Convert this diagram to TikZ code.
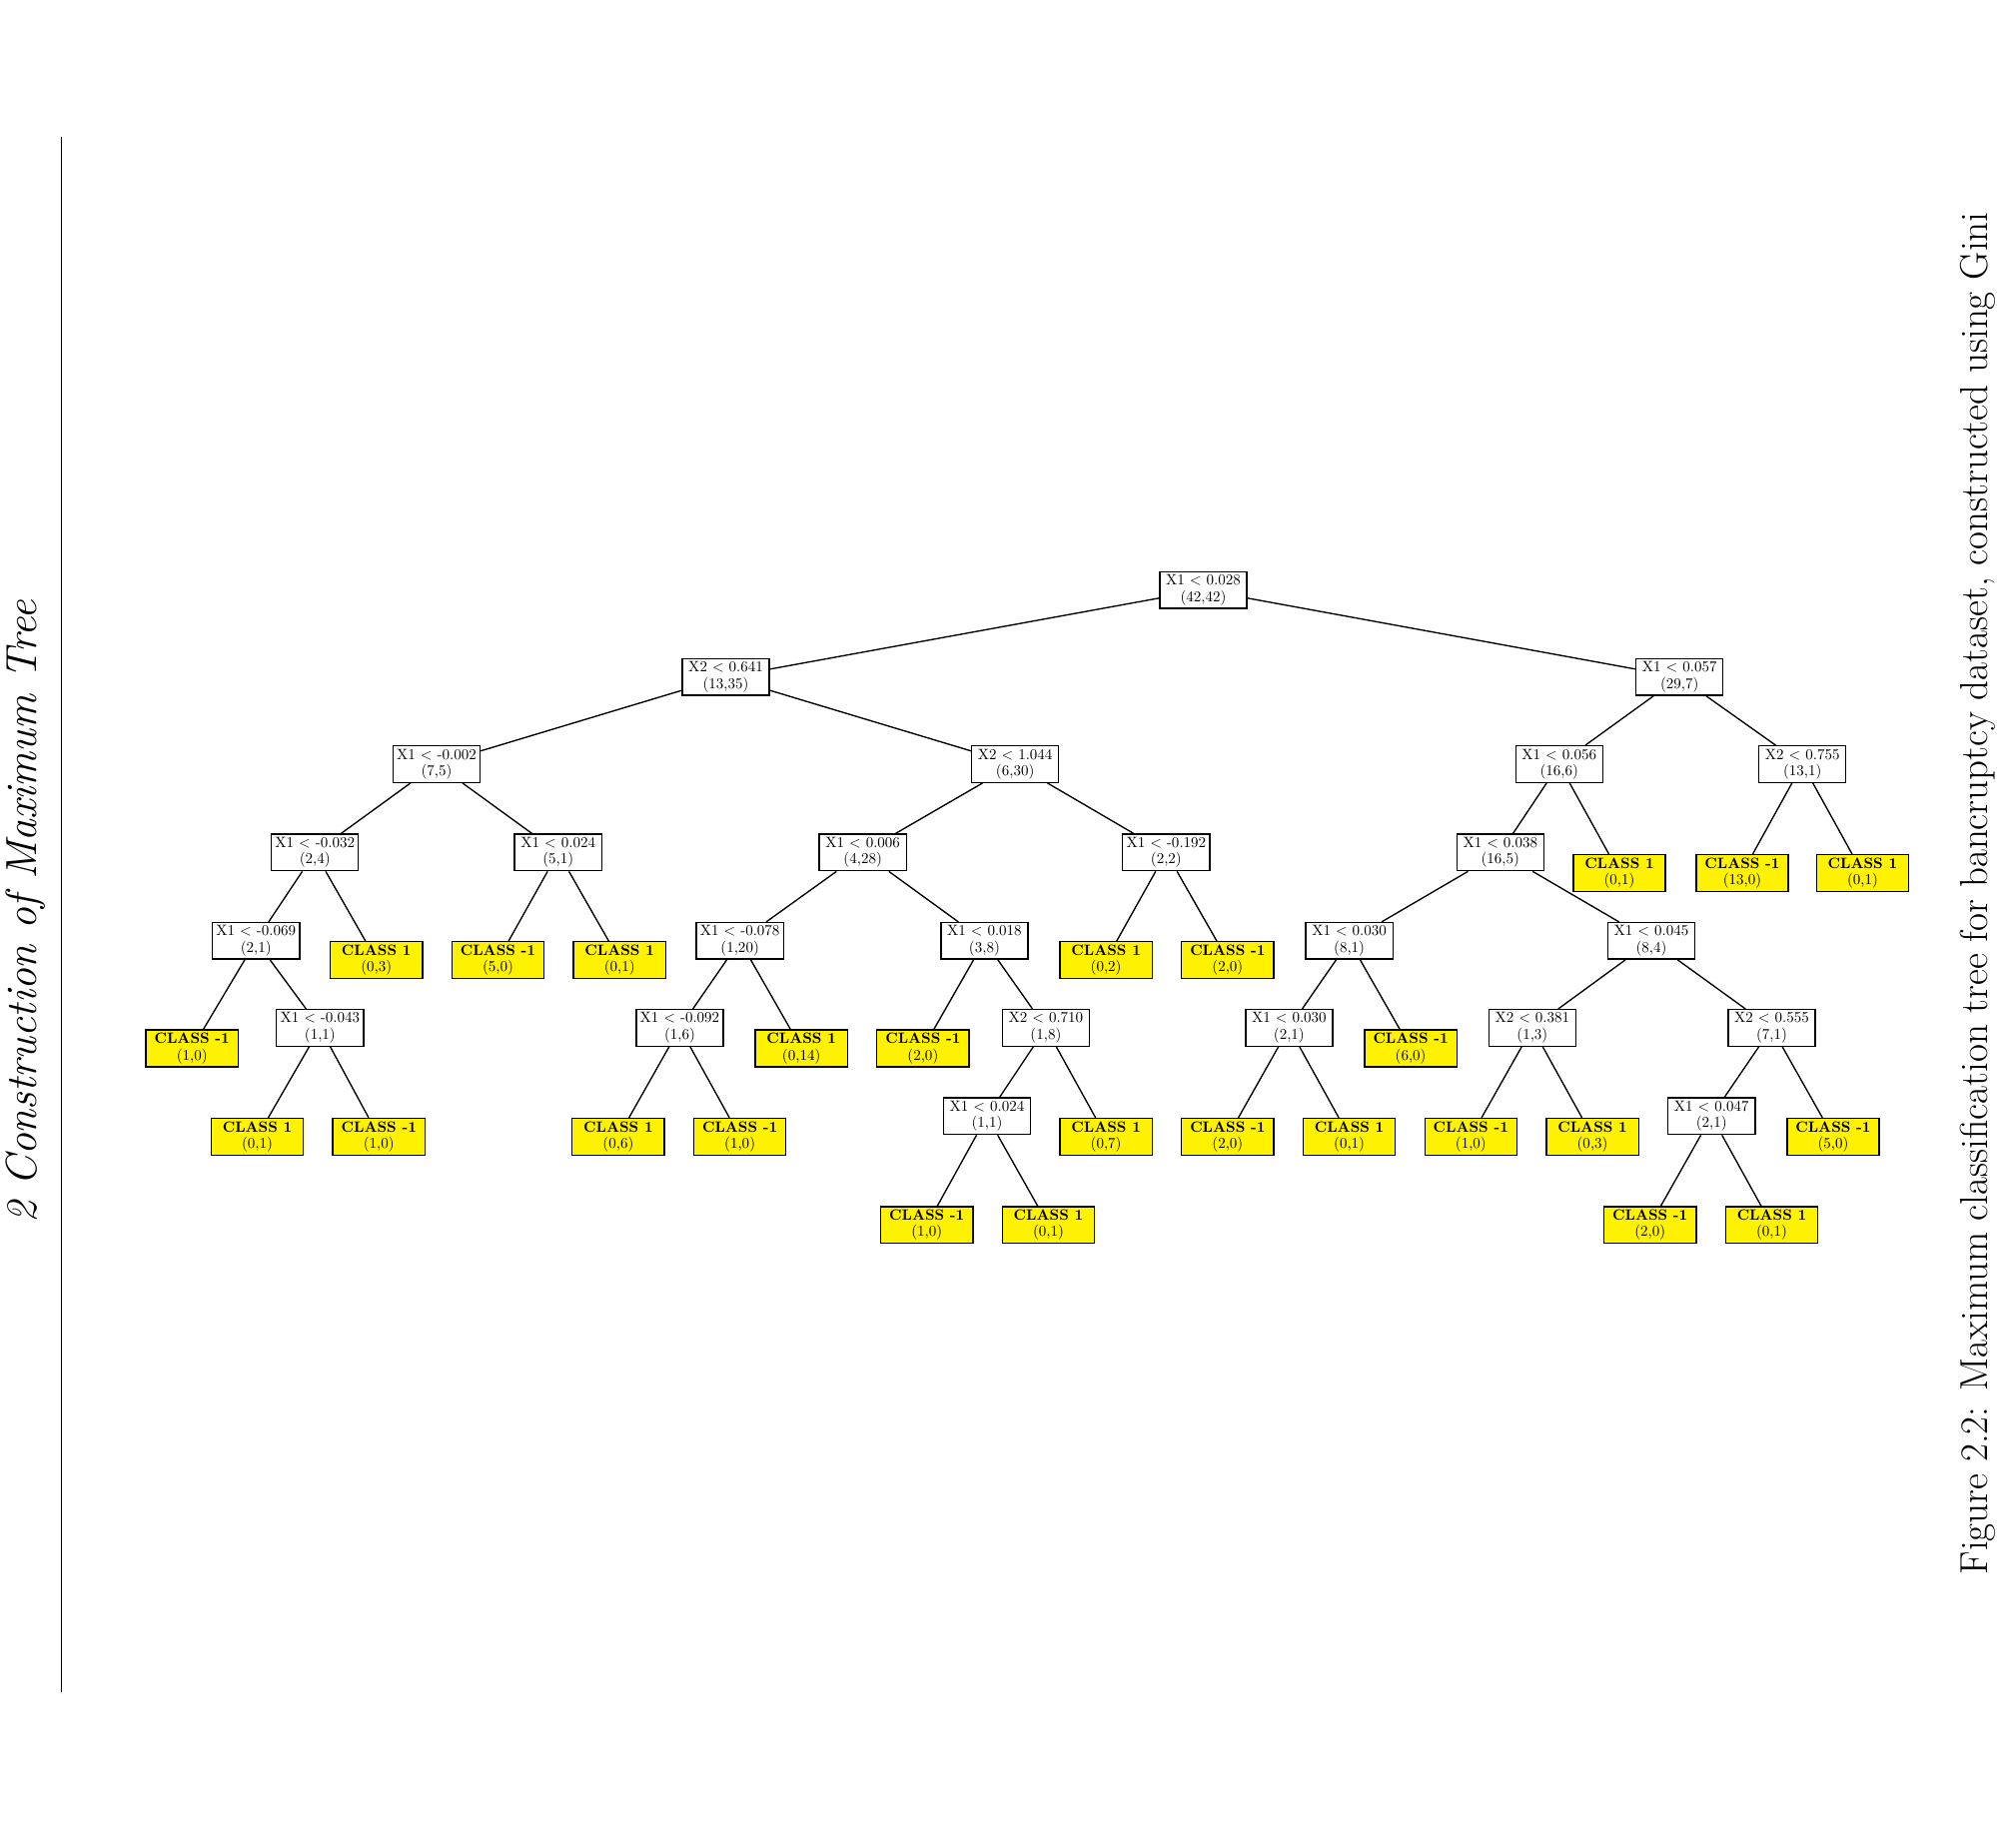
\documentclass[tikz,border=0pt]{standalone}
\begin{document}
\begin{tikzpicture}[x=0.03cm,y=-0.03cm,
  inner/.style={draw,line width=0.9pt,fill=white,align=center,font=\fontsize{10}{11}\selectfont,inner sep=2pt,minimum width=68*0.03cm},
  leaf/.style={draw,line width=0.9pt,fill=yellow,align=center,font=\fontsize{10}{11}\selectfont,inner sep=2pt,minimum width=72*0.03cm},
  edge/.style={line width=0.9pt}]
\useasboundingbox (0,0) rectangle (1560,1443);
\draw[line width=1.3pt] (48,107) -- (48,1322);
\node[rotate=90,font=\fontsize{29}{32}\selectfont\itshape] (hd) at (20,712) {2 Construction of Maximum Tree};
\node[rotate=90,font=\fontsize{26}{30}\selectfont] (cap) at (1545,698) {Figure 2.2: Maximum classification tree for bancruptcy dataset, constructed using Gini};
\newcommand{\inn}[4]{\node[inner] (#1) at (#2) {#3\\(#4)};}
\newcommand{\lf}[4]{\node[leaf] (#1) at (#2) {\textbf{#3}\\(#4)};}
\inn{r}{940,461}{X1 $<$ 0.028}{42,42}
\inn{A}{567,529}{X2 $<$ 0.641}{13,35}
\inn{B}{1312,529}{X1 $<$ 0.057}{29,7}
\inn{A1}{341,597}{X1 $<$ -0.002}{7,5}
\inn{A2}{793,597}{X2 $<$ 1.044}{6,30}
\inn{A1a}{246,666}{X1 $<$ -0.032}{2,4}
\inn{A1b}{436,666}{X1 $<$ 0.024}{5,1}
\inn{A1a1}{200,735}{X1 $<$ -0.069}{2,1}
\lf{A1a2}{294,750}{CLASS 1}{0,3}
\lf{A1a1a}{150,819}{CLASS -1}{1,0}
\inn{A1a1b}{250,803}{X1 $<$ -0.043}{1,1}
\lf{L1}{201,888}{CLASS 1}{0,1}
\lf{L2}{296,888}{CLASS -1}{1,0}
\lf{A1b1}{389,750}{CLASS -1}{5,0}
\lf{A1b2}{484,750}{CLASS 1}{0,1}
\inn{A2a}{674,666}{X1 $<$ 0.006}{4,28}
\inn{A2b}{911,666}{X1 $<$ -0.192}{2,2}
\inn{A2a1}{578,735}{X1 $<$ -0.078}{1,20}
\inn{A2a2}{769,735}{X1 $<$ 0.018}{3,8}
\inn{A2a1a}{531,803}{X1 $<$ -0.092}{1,6}
\lf{A2a1b}{626,819}{CLASS 1}{0,14}
\lf{L3}{483,888}{CLASS 1}{0,6}
\lf{L4}{578,888}{CLASS -1}{1,0}
\lf{A2a2a}{721,819}{CLASS -1}{2,0}
\inn{A2a2b}{817,803}{X2 $<$ 0.710}{1,8}
\inn{C}{771,872}{X1 $<$ 0.024}{1,1}
\lf{L5}{864,888}{CLASS 1}{0,7}
\lf{L6}{724,957}{CLASS -1}{1,0}
\lf{L7}{819,957}{CLASS 1}{0,1}
\lf{L8}{864,750}{CLASS 1}{0,2}
\lf{L9}{959,750}{CLASS -1}{2,0}
\inn{B1}{1218,597}{X1 $<$ 0.056}{16,6}
\inn{B2}{1408,597}{X2 $<$ 0.755}{13,1}
\inn{B1a}{1172,666}{X1 $<$ 0.038}{16,5}
\lf{B1b}{1265,682}{CLASS 1}{0,1}
\lf{L10}{1361,682}{CLASS -1}{13,0}
\lf{L11}{1455,682}{CLASS 1}{0,1}
\inn{B1a1}{1054,735}{X1 $<$ 0.030}{8,1}
\inn{B1a2}{1290,735}{X1 $<$ 0.045}{8,4}
\inn{B1a1a}{1007,803}{X1 $<$ 0.030}{2,1}
\lf{B1a1b}{1102,819}{CLASS -1}{6,0}
\lf{L12}{959,888}{CLASS -1}{2,0}
\lf{L13}{1054,888}{CLASS 1}{0,1}
\inn{D}{1197,803}{X2 $<$ 0.381}{1,3}
\inn{E}{1384,803}{X2 $<$ 0.555}{7,1}
\lf{L14}{1149,888}{CLASS -1}{1,0}
\lf{L15}{1244,888}{CLASS 1}{0,3}
\inn{F}{1337,872}{X1 $<$ 0.047}{2,1}
\lf{L16}{1432,888}{CLASS -1}{5,0}
\lf{L17}{1289,957}{CLASS -1}{2,0}
\lf{L18}{1384,957}{CLASS 1}{0,1}
\foreach \p/\c in {r/A,r/B,A/A1,A/A2,A1/A1a,A1/A1b,A1a/A1a1,A1a/A1a2,A1a1/A1a1a,A1a1/A1a1b,A1a1b/L1,A1a1b/L2,A1b/A1b1,A1b/A1b2,A2/A2a,A2/A2b,A2a/A2a1,A2a/A2a2,A2a1/A2a1a,A2a1/A2a1b,A2a1a/L3,A2a1a/L4,A2a2/A2a2a,A2a2/A2a2b,A2a2b/C,A2a2b/L5,C/L6,C/L7,A2b/L8,A2b/L9,B/B1,B/B2,B1/B1a,B1/B1b,B2/L10,B2/L11,B1a/B1a1,B1a/B1a2,B1a1/B1a1a,B1a1/B1a1b,B1a1a/L12,B1a1a/L13,B1a2/D,B1a2/E,D/L14,D/L15,E/F,E/L16,F/L17,F/L18}
  \draw[edge] (\p) -- (\c);
\end{tikzpicture}
\end{document}
